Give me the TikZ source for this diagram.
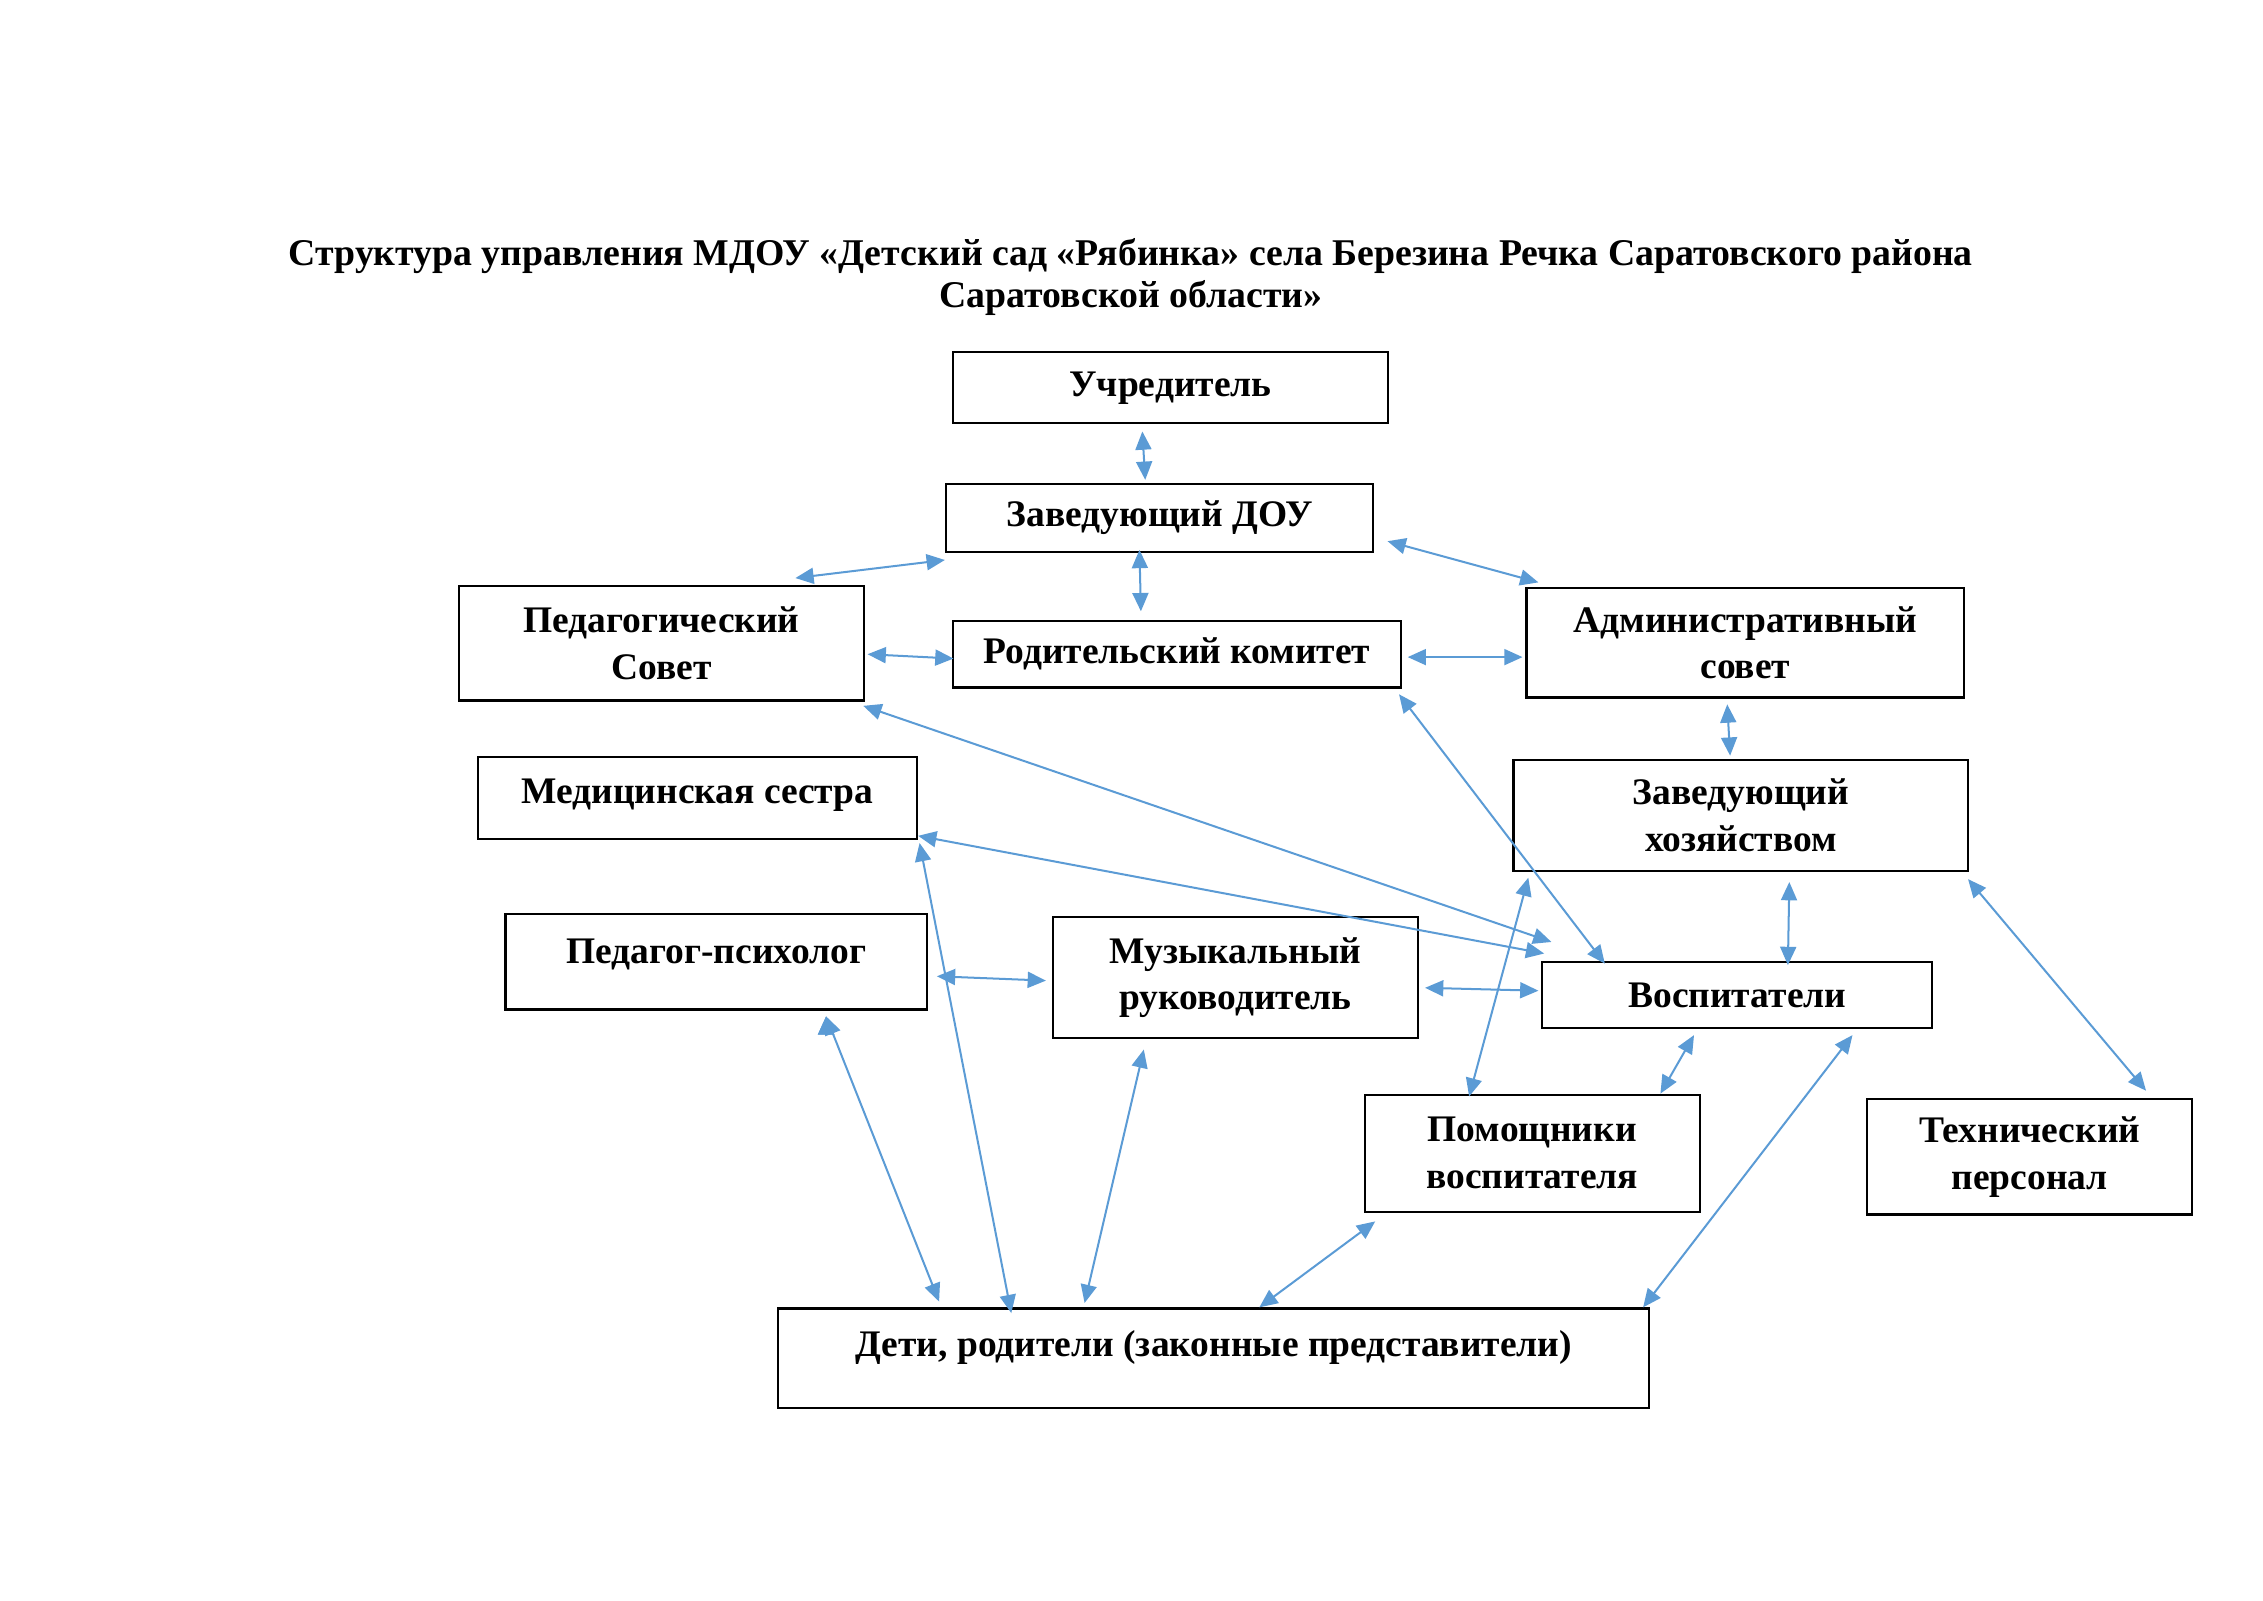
\documentclass[tikz,border=0pt]{standalone}
\usepackage{fontspec}
\setmainfont{Liberation Serif}
\usetikzlibrary{arrows.meta}
\definecolor{linkblue}{RGB}{91,155,213}
\newlength{\px}\setlength{\px}{0.18953mm}
\tikzset{
  box/.style={draw, line width=0.8pt, inner sep=0pt, align=center,
    font=\fontsize{14}{17.4}\selectfont\bfseries},
  high text/.style={text height=10pt, text depth=#1},
  link/.style={linkblue, line width=0.75pt,
    {Triangle[length=2.4mm,width=2.1mm]}-{Triangle[length=2.4mm,width=2.1mm]}},
}
\begin{document}
\begin{tikzpicture}[x=0.18953mm,y={(0,-0.18953mm)}]
    \useasboundingbox (0,0) rectangle (1567,1108);
    % title
    \node[align=center, font=\fontsize{14.1}{15.7}\selectfont\bfseries] (title) at (783,191.5)
      {Структура управления МДОУ «Детский сад «Рябинка» села Березина Речка Саратовского района\\
       Саратовской области»};
    % boxes
    \node[box, minimum width=301\px, minimum height=49\px] (uchr)   at (810.5,268.5) {Учредитель};
    \node[box, minimum width=296\px, minimum height=47\px] (zav)    at (803,358.5)   {Заведующий ДОУ};
    \node[box, minimum width=310\px, minimum height=46\px] (rodkom) at (815,453)     {Родительский комитет};
    \node[box, minimum width=280\px, minimum height=79\px] (pedsov) at (458,445.5)   {Педагогический\\Совет};
    \node[box, minimum width=303\px, minimum height=76\px] (admsov) at (1208.5,445)  {Административный\\совет};
    \node[box, minimum width=315\px, minimum height=77\px] (zavhoz) at (1205.5,564.5) {Заведующий\\хозяйством};
    \node[box, high text=6.2pt, minimum width=304\px, minimum height=57\px] (medsis) at (483,552.5) {Медицинская сестра};
    \node[box, high text=9pt, minimum width=292\px, minimum height=66\px] (pedpsy) at (496,666) {Педагог-психолог};
    \node[box, minimum width=253\px, minimum height=84\px] (muz)    at (855.5,677)   {Музыкальный\\руководитель};
    \node[box, minimum width=270\px, minimum height=46\px] (vosp)   at (1203,689)    {Воспитатели};
    \node[box, minimum width=232\px, minimum height=81\px] (pom)    at (1061,798.5)  {Помощники\\воспитателя};
    \node[box, minimum width=225\px, minimum height=80\px] (tech)   at (1405.5,801)  {Технический\\персонал};
    \node[box, high text=11.6pt, minimum width=603\px, minimum height=69\px] (deti) at (840.5,940.5)
      {Дети, родители (законные представители)};
    % links
    \draw[link]
    ([shift={(-19.5,5)}]uchr.south)    edge ([shift={(-10,-2)}]zav.north)
    ([shift={(-14,-2)}]zav.south)      edge ([shift={(-25,-6)}]rodkom.north)
    ([shift={(0,5)}]zav.south west)    edge ([shift={(-48,-5)}]pedsov.north east)
    ([shift={(9,-8)}]zav.south east)   edge ([shift={(9,-3)}]admsov.north west)
    ([shift={(2,7.5)}]pedsov.east)     edge ([shift={(1,3)}]rodkom.west)
    ([shift={(4,2)}]rodkom.east)       edge ([shift={(-2,10)}]admsov.west)
    ([shift={(-12.5,4)}]admsov.south)  edge ([shift={(-7.5,-2)}]zavhoz.north)
    ([shift={(-1,3)}]pedsov.south east) edge ([shift={(7,-13)}]vosp.north west)
    ([shift={(0,-3)}]medsis.south east) edge ([shift={(2,-5)}]vosp.north west)
    ([shift={(-2,4)}]rodkom.south east) edge ([shift={(44,2)}]vosp.north west)
    ([shift={(33.5,7)}]zavhoz.south)   edge ([shift={(35,3)}]vosp.north)
    ([shift={(-1,5)}]zavhoz.south east) edge ([shift={(80.5,-5)}]tech.north)
    ([shift={(6,10)}]pedpsy.east)      edge ([shift={(-4,2)}]muz.west)
    ([shift={(4,7)}]muz.east)          edge ([shift={(-2,-3)}]vosp.west)
    ([shift={(-30,4)}]vosp.south)      edge ([shift={(-28,0)}]pom.north east)
    ([shift={(-56,4)}]vosp.south east) edge ([shift={(-5,0)}]deti.north east)
    ([shift={(73,2)}]pom.north west)   edge ([shift={(11,4)}]zavhoz.south west)
    ([shift={(8,6)}]pom.south west)    edge ([shift={(31.5,0)}]deti.north)
    ([shift={(-63.5,7)}]muz.south)     edge ([shift={(-89.5,-3)}]deti.north)
    ([shift={(1,2)}]medsis.south east) edge ([shift={(162,4)}]deti.north west)
    ([shift={(76,4)}]pedpsy.south)     edge ([shift={(112,-4)}]deti.north west);
  \end{tikzpicture}
\end{document}
